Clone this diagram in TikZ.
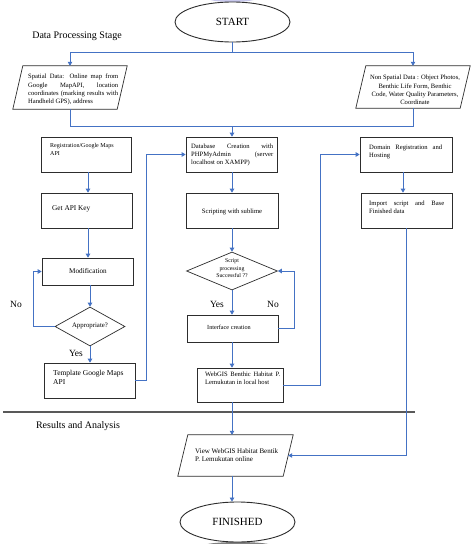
\documentclass[tikz,border=0pt]{standalone}
\usepackage{fontspec}
\setmainfont{Liberation Serif}
\usetikzlibrary{arrows.meta,shapes.geometric,calc}
\definecolor{conn}{RGB}{68,114,196}
\definecolor{edgec}{RGB}{45,45,45}
\newcommand{\jl}[2]{\makebox[#1][s]{#2}}
\begin{document}
\begin{tikzpicture}[x=1pt,y=-1pt,
  box/.style={draw=edgec,line width=0.7pt,rectangle,inner sep=0pt},
  term/.style={ellipse,draw=edgec,line width=0.9pt,inner sep=0pt,minimum width=115pt,minimum height=40pt,font=\fontsize{11}{13}\selectfont},
  decis/.style={diamond,draw=edgec,line width=0.7pt,inner sep=0pt},
  ghost/.style={inner sep=0pt,rectangle},
  para/.style={draw=edgec,line width=0.7pt},
  txt/.style={inner sep=0pt,font=\fontsize{6.6}{8.2}\selectfont,align=left},
  lbl/.style={inner sep=0pt,font=\fontsize{9.5}{11}\selectfont},
  head/.style={inner sep=0pt,font=\fontsize{10}{12}\selectfont},
  ln/.style={draw=conn,line width=0.8pt},
  arr/.style={draw=conn,line width=0.8pt,-{Triangle[length=4pt,width=4.5pt]}},
  sepline/.style={draw=black!65,line width=1.3pt}]
\useasboundingbox (0,0) rectangle (474,544);
\fill[white] (0,0) rectangle (474,544);
% shadow artifacts
\fill[black!35!blue!30,opacity=0.7] (232,-2) ellipse (25pt and 4pt);
\fill[black!70,opacity=0.7] (238,546) ellipse (35pt and 4pt);

% terminals
\node[term] (start) at (232.5,22) {START};
\node[term] (fin) at (237.5,522) {FINISHED};

% headings
\node[head] (hdp) at (77,36) {Data Processing Stage};
\node[head] (hra) at (78,426) {Results and Analysis};

% parallelograms
\node[ghost,minimum width=104pt,minimum height=43pt] (sp) at (70,87.5) {};
\draw[para] ($(sp.north west)+(5,0)$) -- ($(sp.north east)+(5,0)$) -- ($(sp.south east)+(-5,0)$) -- ($(sp.south west)+(-5,0)$) -- cycle;
\node[ghost,minimum width=104pt,minimum height=42pt] (nsp) at (413,87) {};
\draw[para] ($(nsp.north west)+(5,0)$) -- ($(nsp.north east)+(5,0)$) -- ($(nsp.south east)+(-5,0)$) -- ($(nsp.south west)+(-5,0)$) -- cycle;
\node[ghost,minimum width=105pt,minimum height=41pt] (view) at (235.5,455.5) {};
\draw[para] ($(view.north west)+(5,0)$) -- ($(view.north east)+(5,0)$) -- ($(view.south east)+(-5,0)$) -- ($(view.south west)+(-5,0)$) -- cycle;

\node[txt,anchor=north west] (tsp) at (28,74) {\jl{90pt}{Spatial Data: Online map from}\\\jl{90pt}{Google MapAPI, location}\\\jl{90pt}{coordinates (marking results with}\\Handheld GPS), address};
\node[txt,align=center] (tnsp) at (415,90) {Non Spatial Data : Object Photos,\\Benthic Life Form, Benthic\\Code, Water Quality Parameters,\\Coordinate};
\node[txt,anchor=north west,font=\fontsize{7}{8.2}\selectfont] (tview) at (195,448.5) {\jl{83pt}{View WebGIS Habitat Bentik}\\P. Lemukutan online};

% column 1
\node[box,minimum width=90pt,minimum height=35pt] (reg) at (86,154.5) {};
\node[txt,anchor=north west,font=\fontsize{6}{8}\selectfont] (treg) at (50,143.5) {Registration/Google Maps\\API};
\node[box,minimum width=91pt,minimum height=35pt] (api) at (86.5,210.5) {};
\node[txt,anchor=west,font=\fontsize{7.3}{9}\selectfont] (tapi) at (52,209) {Get API Key};
\node[box,minimum width=91pt,minimum height=27pt] (mod) at (87.5,271.5) {};
\node[txt,font=\fontsize{7.2}{9}\selectfont] (tmod) at (88,271) {Modification};
\node[decis,minimum width=70pt,minimum height=39pt] (appr) at (90,326.5) {};
\node[txt,font=\fontsize{6.8}{8}\selectfont] (tappr) at (90,326) {Appropriate?};
\node[box,minimum width=91pt,minimum height=35pt] (tmpl) at (89.5,380.5) {};
\node[txt,anchor=north west,font=\fontsize{7.5}{9}\selectfont] (ttmpl) at (53,370.5) {Template Google Maps\\API};

% column 2
\node[box,minimum width=91pt,minimum height=35pt] (db) at (231.5,154.5) {};
\node[txt,anchor=north west] (tdb) at (191,143.5) {\jl{82pt}{Database Creation with}\\\jl{82pt}{PHPMyAdmin (server}\\localhost on XAMPP)};
\node[box,minimum width=92pt,minimum height=35pt] (scr) at (232,210.5) {};
\node[txt] (tscr) at (232,212) {Scripting with sublime};
\node[decis,minimum width=91pt,minimum height=38pt] (dia) at (232,271) {};
\node[txt,align=center,font=\fontsize{5.8}{7.5}\selectfont] (tdia) at (232,268.5) {Script\\processing\\Successful ??};
\node[box,minimum width=91pt,minimum height=27pt] (intf) at (232.5,328.5) {};
\node[txt,anchor=west,font=\fontsize{6.2}{8}\selectfont] (tintf) at (207,327.5) {Interface creation};
\node[box,minimum width=86pt,minimum height=34pt] (web) at (240,385) {};
\node[txt,anchor=north west] (tweb) at (205,371.5) {\jl{75pt}{WebGIS Benthic Habitat P.}\\Lemukutan in local host};

% column 3
\node[box,minimum width=92pt,minimum height=35pt] (dom) at (406,154.5) {};
\node[txt,anchor=north west] (tdom) at (369,144.5) {\jl{73pt}{Domain Registration and}\\Hosting};
\node[box,minimum width=91pt,minimum height=35pt] (imp) at (406.5,210.5) {};
\node[txt,anchor=north west] (timp) at (369,200.5) {\jl{75pt}{Import script and Base}\\Finished data};

% separator
\coordinate (sepL) at (3,412);
\coordinate (sepR) at (415,412);
\draw[sepline] (sepL) -- (sepR);

% helper coordinates
\coordinate (splitL) at (70,52);
\coordinate (splitM) at (232.5,52);
\coordinate (splitR) at (413,52);
\coordinate (mL) at (70,126);
\coordinate (mM) at (232,126);
\coordinate (mR) at (413,126);
\coordinate (c1) at (88,0);
\coordinate (c2) at (232,0);
\coordinate (c3) at (403,0);
\coordinate (c3b) at (406,0);
\coordinate (noL) at (33,0);
\coordinate (L1) at (146,0);
\coordinate (L2) at (294,0);
\coordinate (L3) at (320,0);

% connectors
\draw[ln] (start.south) -- (splitM);
\draw[ln] (splitL) -- (splitR);
\draw[arr] (splitL) -- (sp.north);
\draw[arr] (splitR) -- (nsp.north);
\draw[ln] (sp.south) -- (mL) -- (mR) -- (nsp.south);
\draw[arr] (mM) -- (mM |- db.north);

\draw[arr] (reg.south -| c1) -- (api.north -| c1);
\draw[arr] (api.south -| c1) -- (mod.north -| c1);
\draw[arr] (mod.south -| appr.north) -- (appr.north);
\draw[arr] (appr.south) -- (appr.south |- tmpl.north);
\draw[arr] (appr.west) -- (appr.west -| noL) |- (mod.west);
\draw[arr] (tmpl.east) -- (tmpl.east -| L1) |- (db.west);

\draw[arr] (db.south -| c2) -- (scr.north -| c2);
\draw[arr] (scr.south -| c2) -- (dia.north);
\draw[arr] (dia.south) -- (intf.north -| dia.south);
\draw[arr] (intf.east) -- (intf.east -| L2) |- (dia.east);
\draw[arr] (intf.south -| c2) -- (web.north -| c2);
\draw[arr] (web.east) -- (web.east -| L3) |- (dom.west);

\draw[arr] (dom.south -| c3) -- (imp.north -| c3);
\draw[arr] (imp.south -| c3b) |- (view.east);

\draw[arr] (web.south -| c2) -- (view.north -| c2);
\draw[arr] (view.south -| c2) -- (fin.north -| c2);

% yes/no labels
\node[lbl] (no1) at (16,304) {No};
\node[lbl] (yes1) at (76,353) {Yes};
\node[lbl] (yes2) at (217,304) {Yes};
\node[lbl] (no2) at (273,304) {No};
\end{tikzpicture}
\end{document}
